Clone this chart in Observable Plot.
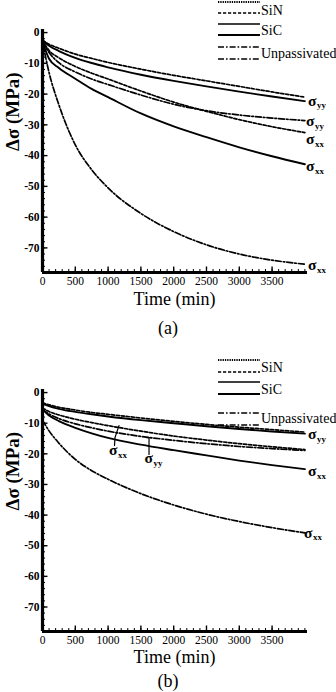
<!DOCTYPE html>
<html><head><meta charset="utf-8">
<script src="https://cdn.jsdelivr.net/npm/d3@7"></script>
<script src="https://cdn.jsdelivr.net/npm/@observablehq/plot@0.6"></script>
<style>
body{margin:0;width:336px;height:692px;overflow:hidden;background:#fff;position:relative;font-family:"Liberation Serif",serif;color:#000}
.panel{position:absolute;left:0}
.lbl{position:absolute;text-align:center;font-size:18px;line-height:18px}
</style></head><body>
<div id="a" class="panel" style="top:0"></div>
<div id="b" class="panel" style="top:340px"></div>
<div class="lbl" style="left:42px;width:265px;top:290px">Time (min)</div>
<div class="lbl" style="left:0;width:336px;top:319px">(a)</div>
<div class="lbl" style="left:42px;width:265px;top:648px">Time (min)</div>
<div class="lbl" style="left:0;width:336px;top:672px">(b)</div>
<script>
// ---- data (Time in min, Δσ in MPa) ----
const times = [0,100,250,500,750,1000,1500,2000,2500,3000,3500,4000];

// panel (a)
const aSiNyy = [-2.5,-3.8,-5.1,-7,-8.4,-9.7,-11.9,-13.9,-15.7,-17.5,-19.3,-21];
const aSiCyy = [-2.5,-4.3,-6,-8.2,-9.9,-11.3,-13.7,-15.7,-17.5,-19.2,-20.8,-22.3];
const aSiNxx = [-2.5,-5.8,-8.2,-11,-13.2,-15.1,-19,-22.6,-25.6,-28.3,-30.6,-32.5];
const aUnpyy = [-3,-6.5,-9.8,-12.8,-15.1,-16.9,-20.3,-23.3,-25.4,-26.8,-27.8,-28.6];
const aSiCxx = [-3,-8.5,-11.5,-15,-18.3,-21,-26.3,-30.5,-34,-37.3,-40.2,-42.8];
const aUnpxx = [-3,-13,-23.5,-36.5,-44.6,-50.5,-58.8,-64.7,-69,-72,-74,-75.3];

// panel (b)
const bSiNyy = [-3.3,-4,-4.8,-5.7,-6.5,-7.1,-8.3,-9.4,-10.4,-11.3,-12.1,-12.9];
const bSiCyy = [-3.5,-4.4,-5.3,-6.3,-7.1,-7.8,-9,-10,-11,-11.9,-12.7,-13.4];
const bSiNxx = [-5,-6.2,-7.3,-8.7,-9.8,-10.8,-12.6,-14.2,-15.5,-16.7,-17.7,-18.6];
const bUnpyy = [-5.5,-7,-8.5,-10.2,-11.5,-12.6,-14.3,-15.6,-16.7,-17.6,-18.3,-18.9];
const bSiCxx = [-5.5,-7.5,-9.3,-11.5,-13.3,-14.8,-17,-18.8,-20.5,-22.2,-23.7,-25];
const bUnpxx = [-9,-12.5,-16.5,-21.8,-25.5,-28.3,-33,-36.7,-39.7,-42.1,-44.1,-45.8];

// tick labels
const xTicks = [0,500,1000,1500,2000,2500,3000,3500];
const yTicks = [0,-10,-20,-30,-40,-50,-60,-70];
const legendLabels = ["SiN","SiC","Unpassivated"];
const materials = ["SiN","SiC","Unpassivated"];

// curve-end / callout labels (σ with subscript)
const annotA = [
  {t:4047, v:-22.1, sub:"yy"},
  {t:4017, v:-28.8, sub:"yy"},
  {t:4017, v:-34.5, sub:"xx"},
  {t:4017, v:-43.5, sub:"xx"},
  {t:4047, v:-75.6, sub:"xx"}
];
const annotB = [
  {t:4047, v:-13.6, sub:"yy"},
  {t:4047, v:-25.5, sub:"xx"},
  {t:3987, v:-45.7, sub:"xx"},
  {t:1014, v:-18.9, sub:"xx"},
  {t:1555, v:-21.5, sub:"yy"}
];
const leaderB = [
  {id:1, t:1098, v:-17.3},{id:1, t:1105, v:-14.7},{id:1, t:1166, v:-10.8},
  {id:2, t:1624, v:-20.2},{id:2, t:1624, v:-14.7},
  {id:3, t:1586, v:-14.7},{id:3, t:1662, v:-14.7}
];

// ---- styles ----
const styleOf = {
  SiN: {strokeDasharray:"3.2,1.8", strokeWidth:1.7},
  SiC: {strokeWidth:1.9},
  Unpassivated: {strokeDasharray:"6,2,1.6,2", strokeWidth:1.7}
};

const xDomain = [0, 4040];
const yDomain = [-78, 1];
const W = 336, ML = 42, MR = 29, FW = W - ML - MR;

function rows(vals, mat) { return times.map((t,i)=>({t, v: vals[i], mat})); }

function panel(el, {series, annots, leaders, marginTop, frameH, legend}) {
  const height = marginTop + frameH + 18;
  const xMinor = d3.range(0, 4001, 100);
  const yMinor = d3.range(0, -77, -2);
  const marks = [
    Plot.tickX(xMinor, {x: d=>d, insetTop: frameH-3, strokeWidth:1}),
    Plot.tickX(xTicks, {x: d=>d, insetTop: frameH-5.5, strokeWidth:1.4}),
    Plot.tickY(yMinor, {y: d=>d, insetRight: FW-3, strokeWidth:1}),
    Plot.tickY(yTicks, {y: d=>d, insetRight: FW-5.5, strokeWidth:1.4}),
    Plot.ruleX([xDomain[0]], {strokeWidth:3.2}),
    Plot.ruleY([yDomain[0]], {strokeWidth:3.2}),
    Plot.axisX(xTicks, {tickSize:0, tickPadding:4, tickFormat:d=>String(d), fontSize:11.5, label:null}),
    Plot.axisY(yTicks, {tickSize:0, tickPadding:3, tickFormat:d=>String(d), fontSize:11.5, fontWeight:"bold", label:null}),
    Plot.text(["Δσ (MPa)"], {frameAnchor:"left", rotate:-90, dx:-30, fontSize:19, fontWeight:"bold"})
  ];
  for (const s of series) {
    marks.push(Plot.line(s.data, {x:"t", y:"v", curve:"monotone-x", stroke:"black", ...styleOf[s.mat]}));
  }
  if (leaders) marks.push(Plot.line(leaders, {x:"t", y:"v", z:"id", stroke:"black", strokeWidth:1.2}));
  marks.push(Plot.text(annots, {x:"t", y:"v", text:()=>"σ", textAnchor:"start", fontSize:15.5, fontWeight:"bold"}));
  marks.push(Plot.text(annots, {x:"t", y:"v", text:"sub", textAnchor:"start", dx:9, dy:5, fontSize:9, fontWeight:"bold"}));

  const chart = Plot.plot({
    width: W, height, marginTop, marginBottom: 18, marginLeft: ML, marginRight: MR,
    x: {domain: xDomain, axis: null},
    y: {domain: yDomain, axis: null},
    style: {fontFamily:"Liberation Serif", fontSize:"12px", background:"transparent", color:"black", overflow:"visible"},
    marks
  });
  el.appendChild(chart);

  // legend (two line samples per material + label)
  const svg = d3.select(chart);
  const g = svg.append("g").attr("fill","none").attr("stroke","black");
  legend.forEach((r, i) => {
    const st = styleOf[materials[i]];
    const up = g.append("line").attr("x1",218).attr("x2",260).attr("y1",r.y1).attr("y2",r.y1)
      .attr("stroke-width", materials[i]==="SiC" ? 1.3 : 1.6);
    if (materials[i]==="SiN") up.attr("stroke-dasharray","1.3,1").attr("stroke-width",2.2);
    else if (st.strokeDasharray) up.attr("stroke-dasharray", st.strokeDasharray);
    const lo = g.append("line").attr("x1",218).attr("x2",260).attr("y1",r.y2).attr("y2",r.y2)
      .attr("stroke-width", st.strokeWidth);
    if (st.strokeDasharray) lo.attr("stroke-dasharray", st.strokeDasharray);
    svg.append("text").attr("x",261).attr("y",r.ty).attr("dy","0.35em")
      .attr("text-anchor","start").attr("font-size",14).attr("fill","black").attr("stroke","none")
      .text(legendLabels[i]);
  });
}

panel(document.getElementById("a"), {
  marginTop: 29, frameH: 243,
  series: [
    {data: rows(aSiNyy,"SiN"), mat:"SiN"}, {data: rows(aSiNxx,"SiN"), mat:"SiN"},
    {data: rows(aSiCyy,"SiC"), mat:"SiC"}, {data: rows(aSiCxx,"SiC"), mat:"SiC"},
    {data: rows(aUnpyy,"Unpassivated"), mat:"Unpassivated"}, {data: rows(aUnpxx,"Unpassivated"), mat:"Unpassivated"}
  ],
  annots: annotA,
  legend: [{y1:2,y2:13,ty:10},{y1:24,y2:35,ty:30},{y1:47,y2:59,ty:53}]
});
panel(document.getElementById("b"), {
  marginTop: 49, frameH: 242,
  series: [
    {data: rows(bSiNyy,"SiN"), mat:"SiN"}, {data: rows(bSiNxx,"SiN"), mat:"SiN"},
    {data: rows(bSiCyy,"SiC"), mat:"SiC"}, {data: rows(bSiCxx,"SiC"), mat:"SiC"},
    {data: rows(bUnpyy,"Unpassivated"), mat:"Unpassivated"}, {data: rows(bUnpxx,"Unpassivated"), mat:"Unpassivated"}
  ],
  annots: annotB, leaders: leaderB,
  legend: [{y1:20,y2:32,ty:27},{y1:42,y2:54,ty:49},{y1:73,y2:85,ty:78}]
});
</script>
</body></html>
